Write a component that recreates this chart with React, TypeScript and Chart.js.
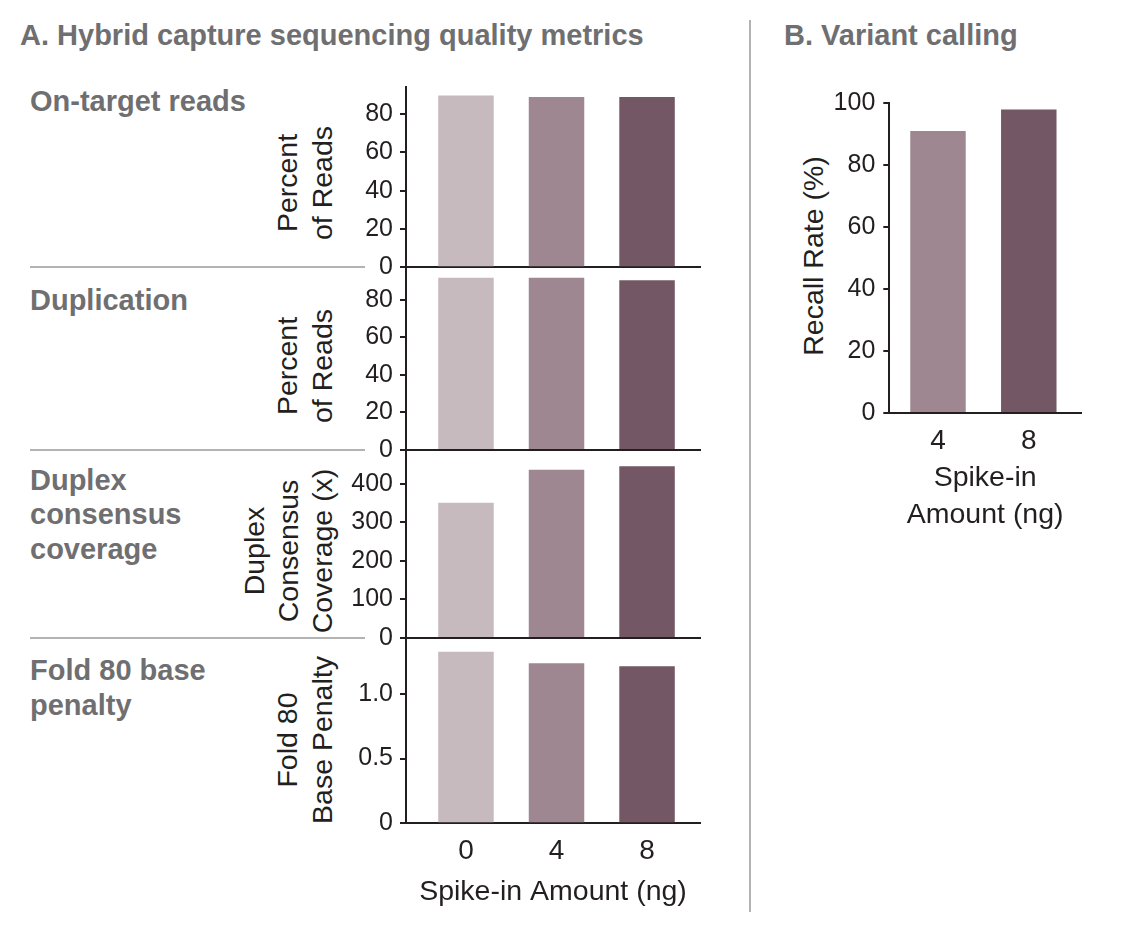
import React, { useEffect, useRef } from 'react';
import { Chart, registerables } from 'chart.js';

Chart.register(...registerables);

// ---------- data ----------
const spikeAmounts = [0, 4, 8];
const onTargetReads = [89.6, 88.9, 88.9];
const duplicationPct = [91.8, 91.8, 90.4];
const duplexCoverage = [351, 437, 446];
const fold80Penalty = [1.325, 1.237, 1.214];
const recallSpikeAmounts = [4, 8];
const recallRate = [91.0, 97.9];
const barColors = ['#c7babf', '#9e8791', '#745765'];
const recallColors = ['#9e8791', '#745765'];

const FONT = "'Liberation Sans', Arial, Helvetica, sans-serif";
const INK = '#231f20';
const HEAD = '#6f6f71';
const SEP = '#b3b3b3';
const TITLE_SIZE = 28.5;
const XTICK_SIZE = 28;
const YTICK_SIZE = 25;

type Rect = { left: number; top: number; width: number; height: number };
type Area = { l: number; t: number; r: number; b: number };

type PanelProps = {
  canvas: Rect;
  area: Area;
  xs: number[];
  ys: number[];
  colors: string[];
  xMin: number;
  xMax: number;
  yMax: number;
  yStep: number;
  barPct: number;
  yTickPad: number;
  showXTicks: boolean;
  xTickPad: number;
  xH: number;
  xTitle: string | string[] | null;
  xTitleLH: number;
  fmt?: (v: number) => string;
};

function BarPanel(p: PanelProps) {
  const ref = useRef<HTMLCanvasElement | null>(null);
  useEffect(() => {
    if (!ref.current) return;
    const c = p.canvas;
    const a = p.area;
    const yW = a.l - c.left;
    const padTop = a.t - c.top;
    const padRight = c.left + c.width - a.r;
    const padBottom = c.top + c.height - a.b - p.xH;
    const chart = new Chart(ref.current, {
      type: 'bar',
      data: {
        datasets: [
          {
            data: p.xs.map((x, i) => ({ x, y: p.ys[i] })),
            backgroundColor: p.colors,
            borderWidth: 0,
            barPercentage: p.barPct,
            categoryPercentage: 1,
          } as any,
        ],
      },
      options: {
        animation: false,
        responsive: false,
        maintainAspectRatio: false,
        layout: {
          autoPadding: false,
          padding: { left: 0, top: padTop, right: padRight, bottom: padBottom },
        },
        plugins: { legend: { display: false }, tooltip: { enabled: false } },
        scales: {
          x: {
            type: 'linear',
            min: p.xMin,
            max: p.xMax,
            offset: false,
            afterBuildTicks: (s: any) => {
              s.ticks = p.xs.map((v) => ({ value: v }));
            },
            afterFit: (s: any) => {
              s.height = p.xH;
            },
            grid: { display: true, drawOnChartArea: false, drawTicks: false, color: INK, lineWidth: 2 },
            border: { display: true, color: INK, width: 2 },
            ticks: {
              display: p.showXTicks,
              padding: p.xTickPad,
              color: INK,
              font: { family: FONT, size: XTICK_SIZE },
              maxRotation: 0,
              autoSkip: false,
              callback: (v: any) => String(v),
            },
            title: {
              display: !!p.xTitle,
              text: p.xTitle || '',
              color: INK,
              font: { family: FONT, size: TITLE_SIZE, lineHeight: p.xTitleLH },
              padding: 0,
            },
          },
          y: {
            type: 'linear',
            min: 0,
            max: p.yMax,
            afterFit: (s: any) => {
              s.width = yW;
            },
            grid: { display: true, drawOnChartArea: false, drawTicks: true, tickLength: 6, color: INK, lineWidth: 2 },
            border: { display: true, color: INK, width: 2 },
            ticks: {
              stepSize: p.yStep,
              includeBounds: false,
              padding: p.yTickPad,
              color: INK,
              font: { family: FONT, size: YTICK_SIZE },
              callback: (v: any) => (p.fmt ? p.fmt(Number(v)) : String(v)),
            },
          },
        },
      } as any,
    });
    return () => chart.destroy();
  }, []);
  const c = p.canvas;
  return (
    <canvas
      ref={ref}
      width={c.width}
      height={c.height}
      style={{ position: 'absolute', left: c.left, top: c.top, width: c.width, height: c.height }}
    />
  );
}

function RotTitle(props: { cx: number; cy: number; lh: number; lines: string[] }) {
  return (
    <div
      style={{
        position: 'absolute',
        left: props.cx,
        top: props.cy,
        transform: 'translate(-50%, -50%) rotate(-90deg)',
        whiteSpace: 'pre',
        textAlign: 'center',
        fontSize: TITLE_SIZE,
        lineHeight: props.lh + 'px',
        color: INK,
      }}
    >
      {props.lines.join('\n')}
    </div>
  );
}

function Head(props: { x: number; y: number; lh?: number; text: string }) {
  return (
    <div
      style={{
        position: 'absolute',
        left: props.x,
        top: props.y,
        whiteSpace: 'pre',
        fontSize: 29,
        fontWeight: 'bold',
        lineHeight: (props.lh || 34.5) + 'px',
        color: HEAD,
      }}
    >
      {props.text}
    </div>
  );
}

const A_L = 406;
const A_R = 700;
const A_XMIN = -2.65;
const A_XMAX = 10.34;

export default function App() {
  return (
    <div
      style={{
        position: 'absolute',
        left: 0,
        top: 0,
        width: 1125,
        height: 938,
        background: '#ffffff',
        fontFamily: FONT,
        overflow: 'hidden',
      }}
    >
      {/* headings */}
      <Head x={20} y={17.5} text="A. Hybrid capture sequencing quality metrics" />
      <Head x={784} y={17.5} text="B. Variant calling" />
      <Head x={30} y={83.5} text="On-target reads" />
      <Head x={30} y={282.5} text="Duplication" />
      <Head x={30} y={462.5} text={'Duplex\nconsensus\ncoverage'} />
      <Head x={30} y={652.5} lh={35} text={'Fold 80 base\npenalty'} />

      {/* separators */}
      <div style={{ position: 'absolute', left: 30, top: 266, width: 335, height: 2, background: SEP }} />
      <div style={{ position: 'absolute', left: 30, top: 449, width: 335, height: 2, background: SEP }} />
      <div style={{ position: 'absolute', left: 30, top: 637, width: 335, height: 2, background: SEP }} />
      <div style={{ position: 'absolute', left: 749, top: 20, width: 2, height: 892, background: SEP }} />

      {/* y titles */}
      <RotTitle cx={304.7} cy={183} lh={34.7} lines={['Percent', 'of Reads']} />
      <RotTitle cx={304.7} cy={366} lh={34.7} lines={['Percent', 'of Reads']} />
      <RotTitle cx={288} cy={551} lh={34.2} lines={['Duplex', 'Consensus', 'Coverage (x)']} />
      <RotTitle cx={304.5} cy={740} lh={35} lines={['Fold 80', 'Base Penalty']} />
      <RotTitle cx={813.3} cy={256} lh={34} lines={['Recall Rate (%)']} />

      {/* panel A charts */}
      <BarPanel
        canvas={{ left: 320, top: 65, width: 400, height: 225 }}
        area={{ l: A_L, t: 85, r: A_R, b: 267.3 }}
        xs={spikeAmounts}
        ys={onTargetReads}
        colors={barColors}
        xMin={A_XMIN}
        xMax={A_XMAX}
        yMax={94.1}
        yStep={20}
        barPct={0.613}
        yTickPad={7}
        showXTicks={false}
        xTickPad={0}
        xH={0}
        xTitle={null}
        xTitleLH={1.2}
      />
      <BarPanel
        canvas={{ left: 320, top: 247, width: 400, height: 225 }}
        area={{ l: A_L, t: 267.3, r: A_R, b: 450 }}
        xs={spikeAmounts}
        ys={duplicationPct}
        colors={barColors}
        xMin={A_XMIN}
        xMax={A_XMAX}
        yMax={96.4}
        yStep={20}
        barPct={0.613}
        yTickPad={7}
        showXTicks={false}
        xTickPad={0}
        xH={0}
        xTitle={null}
        xTitleLH={1.2}
      />
      <BarPanel
        canvas={{ left: 320, top: 430, width: 400, height: 230 }}
        area={{ l: A_L, t: 450, r: A_R, b: 638.3 }}
        xs={spikeAmounts}
        ys={duplexCoverage}
        colors={barColors}
        xMin={A_XMIN}
        xMax={A_XMAX}
        yMax={482.8}
        yStep={100}
        barPct={0.613}
        yTickPad={7}
        showXTicks={false}
        xTickPad={0}
        xH={0}
        xTitle={null}
        xTitleLH={1.2}
      />
      <BarPanel
        canvas={{ left: 320, top: 618, width: 400, height: 302 }}
        area={{ l: A_L, t: 638.3, r: A_R, b: 823.3 }}
        xs={spikeAmounts}
        ys={fold80Penalty}
        colors={barColors}
        xMin={A_XMIN}
        xMax={A_XMAX}
        yMax={1.4166}
        yStep={0.5}
        barPct={0.613}
        yTickPad={7}
        showXTicks={true}
        xTickPad={10.9}
        xH={85.8}
        xTitle={'Spike-in Amount (ng)'}
        xTitleLH={1.2}
        fmt={(v) => (v === 0 ? '0' : v.toFixed(1))}
      />

      {/* panel B chart */}
      <BarPanel
        canvas={{ left: 780, top: 80, width: 320, height: 465 }}
        area={{ l: 889.3, t: 99, r: 1081, b: 413 }}
        xs={recallSpikeAmounts}
        ys={recallRate}
        colors={recallColors}
        xMin={1.855}
        xMax={10.3}
        yMax={100}
        yStep={20}
        barPct={0.611}
        yTickPad={8}
        showXTicks={true}
        xTickPad={11.2}
        xH={120.5}
        xTitle={['Spike-in', 'Amount (ng)']}
        xTitleLH={1.3}
      />
    </div>
  );
}
